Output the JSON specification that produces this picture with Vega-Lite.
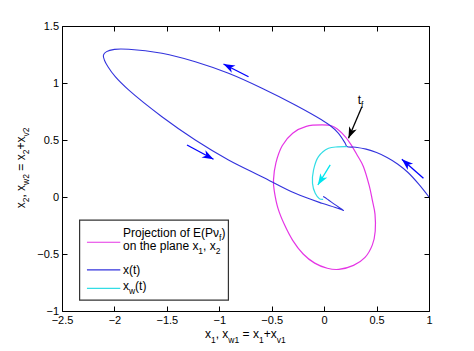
{
  "$schema": "https://vega.github.io/schema/vega-lite/v6.json",
  "width": 367,
  "height": 285,
  "autosize": {"type": "none"},
  "padding": {"left": 62, "top": 26, "right": 45, "bottom": 40},
  "background": "white",
  "config": {
    "view": {"stroke": "black", "strokeWidth": 1},
    "font": "Liberation Sans",
    "axis": {"grid": false, "domain": false, "tickColor": "black", "tickWidth": 1, "labelColor": "black", "labelFont": "Liberation Sans", "labelFontSize": 11, "title": null}
  },
  "datasets": {
    "ellipse": [
      {"i": 1, "x": -0.02, "y": 0.632}, {"i": 2, "x": 0.08, "y": 0.62}, {"i": 3, "x": 0.17, "y": 0.56},
      {"i": 4, "x": 0.248, "y": 0.471}, {"i": 5, "x": 0.32, "y": 0.36}, {"i": 6, "x": 0.375, "y": 0.266},
      {"i": 7, "x": 0.43, "y": 0.1}, {"i": 8, "x": 0.46, "y": -0.03}, {"i": 9, "x": 0.485, "y": -0.15},
      {"i": 10, "x": 0.487, "y": -0.3}, {"i": 11, "x": 0.46, "y": -0.42}, {"i": 12, "x": 0.39, "y": -0.53},
      {"i": 13, "x": 0.28, "y": -0.6}, {"i": 14, "x": 0.14, "y": -0.635}, {"i": 15, "x": 0.03, "y": -0.625},
      {"i": 16, "x": -0.09, "y": -0.58}, {"i": 17, "x": -0.2, "y": -0.5}, {"i": 18, "x": -0.3, "y": -0.38},
      {"i": 19, "x": -0.38, "y": -0.24}, {"i": 20, "x": -0.44, "y": -0.1}, {"i": 21, "x": -0.475, "y": 0.05},
      {"i": 22, "x": -0.483, "y": 0.15}, {"i": 23, "x": -0.46, "y": 0.3}, {"i": 24, "x": -0.4, "y": 0.45},
      {"i": 25, "x": -0.3, "y": 0.56}, {"i": 26, "x": -0.17, "y": 0.62}
    ],
    "xt": [
      {"i": 1, "x": 1.0, "y": 0.0}, {"i": 2, "x": 0.9, "y": 0.115}, {"i": 3, "x": 0.8, "y": 0.215},
      {"i": 4, "x": 0.7, "y": 0.29}, {"i": 5, "x": 0.6, "y": 0.347}, {"i": 6, "x": 0.5, "y": 0.39},
      {"i": 7, "x": 0.4, "y": 0.42}, {"i": 8, "x": 0.3, "y": 0.437}, {"i": 9, "x": 0.217, "y": 0.443},
      {"i": 10, "x": 0.201, "y": 0.471}, {"i": 11, "x": 0.137, "y": 0.559}, {"i": 12, "x": 0.06, "y": 0.625},
      {"i": 13, "x": -0.021, "y": 0.675}, {"i": 14, "x": -0.276, "y": 0.807}, {"i": 15, "x": -0.593, "y": 0.954},
      {"i": 16, "x": -0.912, "y": 1.085}, {"i": 17, "x": -1.229, "y": 1.187}, {"i": 18, "x": -1.547, "y": 1.261},
      {"i": 19, "x": -1.865, "y": 1.296}, {"i": 20, "x": -2.0, "y": 1.295}, {"i": 21, "x": -2.075, "y": 1.275},
      {"i": 22, "x": -2.105, "y": 1.245}, {"i": 23, "x": -2.095, "y": 1.2}, {"i": 24, "x": -2.06, "y": 1.14},
      {"i": 25, "x": -1.992, "y": 1.055}, {"i": 26, "x": -1.865, "y": 0.939}, {"i": 27, "x": -1.547, "y": 0.704},
      {"i": 28, "x": -1.229, "y": 0.5}, {"i": 29, "x": -0.912, "y": 0.325}, {"i": 30, "x": -0.593, "y": 0.178},
      {"i": 31, "x": -0.276, "y": 0.032}, {"i": 32, "x": -0.021, "y": -0.055}, {"i": 33, "x": 0.1, "y": -0.09},
      {"i": 34, "x": 0.169, "y": -0.112}, {"i": 35, "x": 0.186, "y": -0.118}, {"i": 36, "x": 0.165, "y": -0.105},
      {"i": 37, "x": 0.1, "y": -0.065}, {"i": 38, "x": 0.041, "y": -0.026}, {"i": 39, "x": 0.0, "y": 0.0},
      {"i": 40, "x": -0.01, "y": 0.005}
    ],
    "xw": [
      {"i": 1, "x": 0.217, "y": 0.442}, {"i": 2, "x": 0.13, "y": 0.44}, {"i": 3, "x": 0.042, "y": 0.427},
      {"i": 4, "x": -0.054, "y": 0.354}, {"i": 5, "x": -0.101, "y": 0.237}, {"i": 6, "x": -0.111, "y": 0.12},
      {"i": 7, "x": -0.085, "y": 0.032}, {"i": 8, "x": -0.045, "y": -0.015}, {"i": 9, "x": -0.01, "y": -0.02}
    ],
    "arrows": [
      {"x": -0.721, "y": 1.055, "x2": -0.96, "y2": 1.167, "c": "#0000ff"},
      {"x": -1.308, "y": 0.456, "x2": -1.055, "y2": 0.331, "c": "#0000ff"},
      {"x": 0.947, "y": 0.164, "x2": 0.741, "y2": 0.331, "c": "#0000ff"},
      {"x": 0.058, "y": 0.281, "x2": -0.06, "y2": 0.105, "c": "#00e5ee"},
      {"x": 0.36, "y": 0.792, "x2": 0.232, "y2": 0.515, "c": "#000000"}
    ],
    "legendbox": [{"x": -2.332, "x2": -0.913, "y": -0.202, "y2": -0.904}],
    "legendlines": [
      {"x": -2.262, "x2": -1.944, "y": -0.397, "c": "#e535e5"},
      {"x": -2.262, "x2": -1.944, "y": -0.64, "c": "#3333dd"},
      {"x": -2.262, "x2": -1.944, "y": -0.801, "c": "#33dde5"}
    ],
    "texts": [
      {"g": "xm", "t": "x", "x": -1.137, "y": -1.237},
      {"g": "xm", "t": ", x", "x": -1.0345, "y": -1.237},
      {"g": "xm", "t": "= x", "x": -0.778, "y": -1.237},
      {"g": "xm", "t": "+x", "x": -0.577, "y": -1.237},
      {"g": "xs", "t": "1", "x": -1.08, "y": -1.281},
      {"g": "xs", "t": "w1", "x": -0.914, "y": -1.281},
      {"g": "xs", "t": "1", "x": -0.622, "y": -1.281},
      {"g": "xs", "t": "v1", "x": -0.453, "y": -1.281},
      {"g": "ym", "t": "x", "x": -2.85, "y": -0.099},
      {"g": "ym", "t": ", x", "x": -2.85, "y": -0.005},
      {"g": "ym", "t": "= x", "x": -2.85, "y": 0.231},
      {"g": "ym", "t": "+x", "x": -2.85, "y": 0.416},
      {"g": "ys", "t": "2", "x": -2.816, "y": -0.046},
      {"g": "ys", "t": "w2", "x": -2.816, "y": 0.106},
      {"g": "ys", "t": "2", "x": -2.816, "y": 0.374},
      {"g": "ys", "t": "v2", "x": -2.816, "y": 0.53},
      {"g": "lm", "t": "Projection of E(Pν", "x": -1.918, "y": -0.354},
      {"g": "lm", "t": ")", "x": -0.98, "y": -0.354},
      {"g": "lm", "t": "on the plane x", "x": -1.918, "y": -0.465},
      {"g": "lm", "t": ", x", "x": -1.155, "y": -0.465},
      {"g": "lm", "t": "x(t)", "x": -1.918, "y": -0.675},
      {"g": "lm", "t": "x", "x": -1.918, "y": -0.82},
      {"g": "lm", "t": "(t)", "x": -1.803, "y": -0.82},
      {"g": "lm", "t": "t", "x": 0.32, "y": 0.816},
      {"g": "ls", "t": "f", "x": -1.0033, "y": -0.382},
      {"g": "ls", "t": "1", "x": -1.2, "y": -0.496},
      {"g": "ls", "t": "2", "x": -1.034, "y": -0.496},
      {"g": "ls", "t": "w", "x": -1.861, "y": -0.851},
      {"g": "ls", "t": "f", "x": 0.352, "y": 0.785}
    ]
  },
  "resolve": {"axis": {"x": "independent", "y": "independent"}},
  "layer": [
    {
      "data": {"name": "ellipse"},
      "mark": {"type": "line", "interpolate": "cardinal-closed", "color": "#e535e5", "strokeWidth": 1.2},
      "encoding": {
        "x": {"field": "x", "type": "quantitative", "scale": {"domain": [-2.5, 1], "nice": false, "zero": false},
          "axis": {"orient": "bottom", "values": [-2.5, -2, -1.5, -1, -0.5, 0, 0.5, 1], "format": "~g", "tickSize": -5, "labelPadding": 8, "labelFlush": false, "labelOverlap": false, "labelBound": false}},
        "y": {"field": "y", "type": "quantitative", "scale": {"domain": [-1, 1.5], "nice": false, "zero": false},
          "axis": {"orient": "left", "values": [-1, -0.5, 0, 0.5, 1, 1.5], "format": "~g", "tickSize": -5, "labelPadding": 8.5, "labelFlush": false, "labelOverlap": false, "labelBound": false}},
        "order": {"field": "i", "type": "quantitative"}
      }
    },
    {
      "data": {"name": "xt"},
      "mark": {"type": "line", "interpolate": "catmull-rom", "color": "#3333dd", "strokeWidth": 1.1},
      "encoding": {
        "x": {"field": "x", "type": "quantitative", "scale": {"domain": [-2.5, 1], "nice": false, "zero": false}, "axis": null},
        "y": {"field": "y", "type": "quantitative", "scale": {"domain": [-1, 1.5], "nice": false, "zero": false}, "axis": null},
        "order": {"field": "i", "type": "quantitative"}
      }
    },
    {
      "data": {"name": "xw"},
      "mark": {"type": "line", "interpolate": "catmull-rom", "color": "#33dde5", "strokeWidth": 1.2},
      "encoding": {
        "x": {"field": "x", "type": "quantitative", "scale": {"domain": [-2.5, 1], "nice": false, "zero": false}, "axis": null},
        "y": {"field": "y", "type": "quantitative", "scale": {"domain": [-1, 1.5], "nice": false, "zero": false}, "axis": null},
        "order": {"field": "i", "type": "quantitative"}
      }
    },
    {
      "data": {"name": "arrows"},
      "mark": {"type": "rule", "strokeWidth": 1.3},
      "encoding": {
        "x": {"field": "x", "type": "quantitative", "scale": {"domain": [-2.5, 1], "nice": false, "zero": false},
          "axis": {"orient": "top", "values": [-2.5, -2, -1.5, -1, -0.5, 0, 0.5, 1], "labels": false, "tickSize": -5}},
        "y": {"field": "y", "type": "quantitative", "scale": {"domain": [-1, 1.5], "nice": false, "zero": false},
          "axis": {"orient": "right", "values": [-1, -0.5, 0, 0.5, 1, 1.5], "labels": false, "tickSize": -5}},
        "x2": {"field": "x2"},
        "y2": {"field": "y2"},
        "color": {"field": "c", "type": "nominal", "scale": null}
      }
    },
    {
      "data": {"name": "arrows"},
      "transform": [
        {"calculate": "(atan2((datum.x2 - datum.x) * 104.9, (datum.y2 - datum.y) * 114) * 180 / PI + 360) % 360", "as": "heading"}
      ],
      "mark": {"type": "point", "shape": "M0,0 L-0.36,1 L0,0.72 L0.36,1 Z", "filled": true, "opacity": 1, "size": 520, "strokeWidth": 0},
      "encoding": {
        "x": {"field": "x2", "type": "quantitative", "scale": {"domain": [-2.5, 1], "nice": false, "zero": false}, "axis": null},
        "y": {"field": "y2", "type": "quantitative", "scale": {"domain": [-1, 1.5], "nice": false, "zero": false}, "axis": null},
        "angle": {"field": "heading", "type": "quantitative", "scale": null},
        "color": {"field": "c", "type": "nominal", "scale": null}
      }
    },
    {
      "data": {"name": "legendbox"},
      "mark": {"type": "rect", "fill": "white", "stroke": "#333333", "strokeWidth": 1.2},
      "encoding": {
        "x": {"field": "x", "type": "quantitative", "scale": {"domain": [-2.5, 1], "nice": false, "zero": false}, "axis": null},
        "x2": {"field": "x2"},
        "y": {"field": "y", "type": "quantitative", "scale": {"domain": [-1, 1.5], "nice": false, "zero": false}, "axis": null},
        "y2": {"field": "y2"}
      }
    },
    {
      "data": {"name": "legendlines"},
      "mark": {"type": "rule", "strokeWidth": 1.2},
      "encoding": {
        "x": {"field": "x", "type": "quantitative", "scale": {"domain": [-2.5, 1], "nice": false, "zero": false}, "axis": null},
        "x2": {"field": "x2"},
        "y": {"field": "y", "type": "quantitative", "scale": {"domain": [-1, 1.5], "nice": false, "zero": false}, "axis": null},
        "color": {"field": "c", "type": "nominal", "scale": null}
      }
    },
    {
      "data": {"name": "texts"},
      "transform": [{"filter": "datum.g == 'xm' || datum.g == 'lm'"}],
      "mark": {"type": "text", "align": "left", "baseline": "alphabetic", "fontSize": 12, "font": "Liberation Sans", "color": "black"},
      "encoding": {
        "x": {"field": "x", "type": "quantitative", "scale": {"domain": [-2.5, 1], "nice": false, "zero": false}, "axis": null},
        "y": {"field": "y", "type": "quantitative", "scale": {"domain": [-1, 1.5], "nice": false, "zero": false}, "axis": null},
        "text": {"field": "t"}
      }
    },
    {
      "data": {"name": "texts"},
      "transform": [{"filter": "datum.g == 'xs' || datum.g == 'ls'"}],
      "mark": {"type": "text", "align": "left", "baseline": "alphabetic", "fontSize": 8.5, "font": "Liberation Sans", "color": "black"},
      "encoding": {
        "x": {"field": "x", "type": "quantitative", "scale": {"domain": [-2.5, 1], "nice": false, "zero": false}, "axis": null},
        "y": {"field": "y", "type": "quantitative", "scale": {"domain": [-1, 1.5], "nice": false, "zero": false}, "axis": null},
        "text": {"field": "t"}
      }
    },
    {
      "data": {"name": "texts"},
      "transform": [{"filter": "datum.g == 'ym'"}],
      "mark": {"type": "text", "align": "left", "baseline": "alphabetic", "angle": 270, "fontSize": 12, "font": "Liberation Sans", "color": "black"},
      "encoding": {
        "x": {"field": "x", "type": "quantitative", "scale": {"domain": [-2.5, 1], "nice": false, "zero": false}, "axis": null},
        "y": {"field": "y", "type": "quantitative", "scale": {"domain": [-1, 1.5], "nice": false, "zero": false}, "axis": null},
        "text": {"field": "t"}
      }
    },
    {
      "data": {"name": "texts"},
      "transform": [{"filter": "datum.g == 'ys'"}],
      "mark": {"type": "text", "align": "left", "baseline": "alphabetic", "angle": 270, "fontSize": 8.5, "font": "Liberation Sans", "color": "black"},
      "encoding": {
        "x": {"field": "x", "type": "quantitative", "scale": {"domain": [-2.5, 1], "nice": false, "zero": false}, "axis": null},
        "y": {"field": "y", "type": "quantitative", "scale": {"domain": [-1, 1.5], "nice": false, "zero": false}, "axis": null},
        "text": {"field": "t"}
      }
    }
  ]
}
